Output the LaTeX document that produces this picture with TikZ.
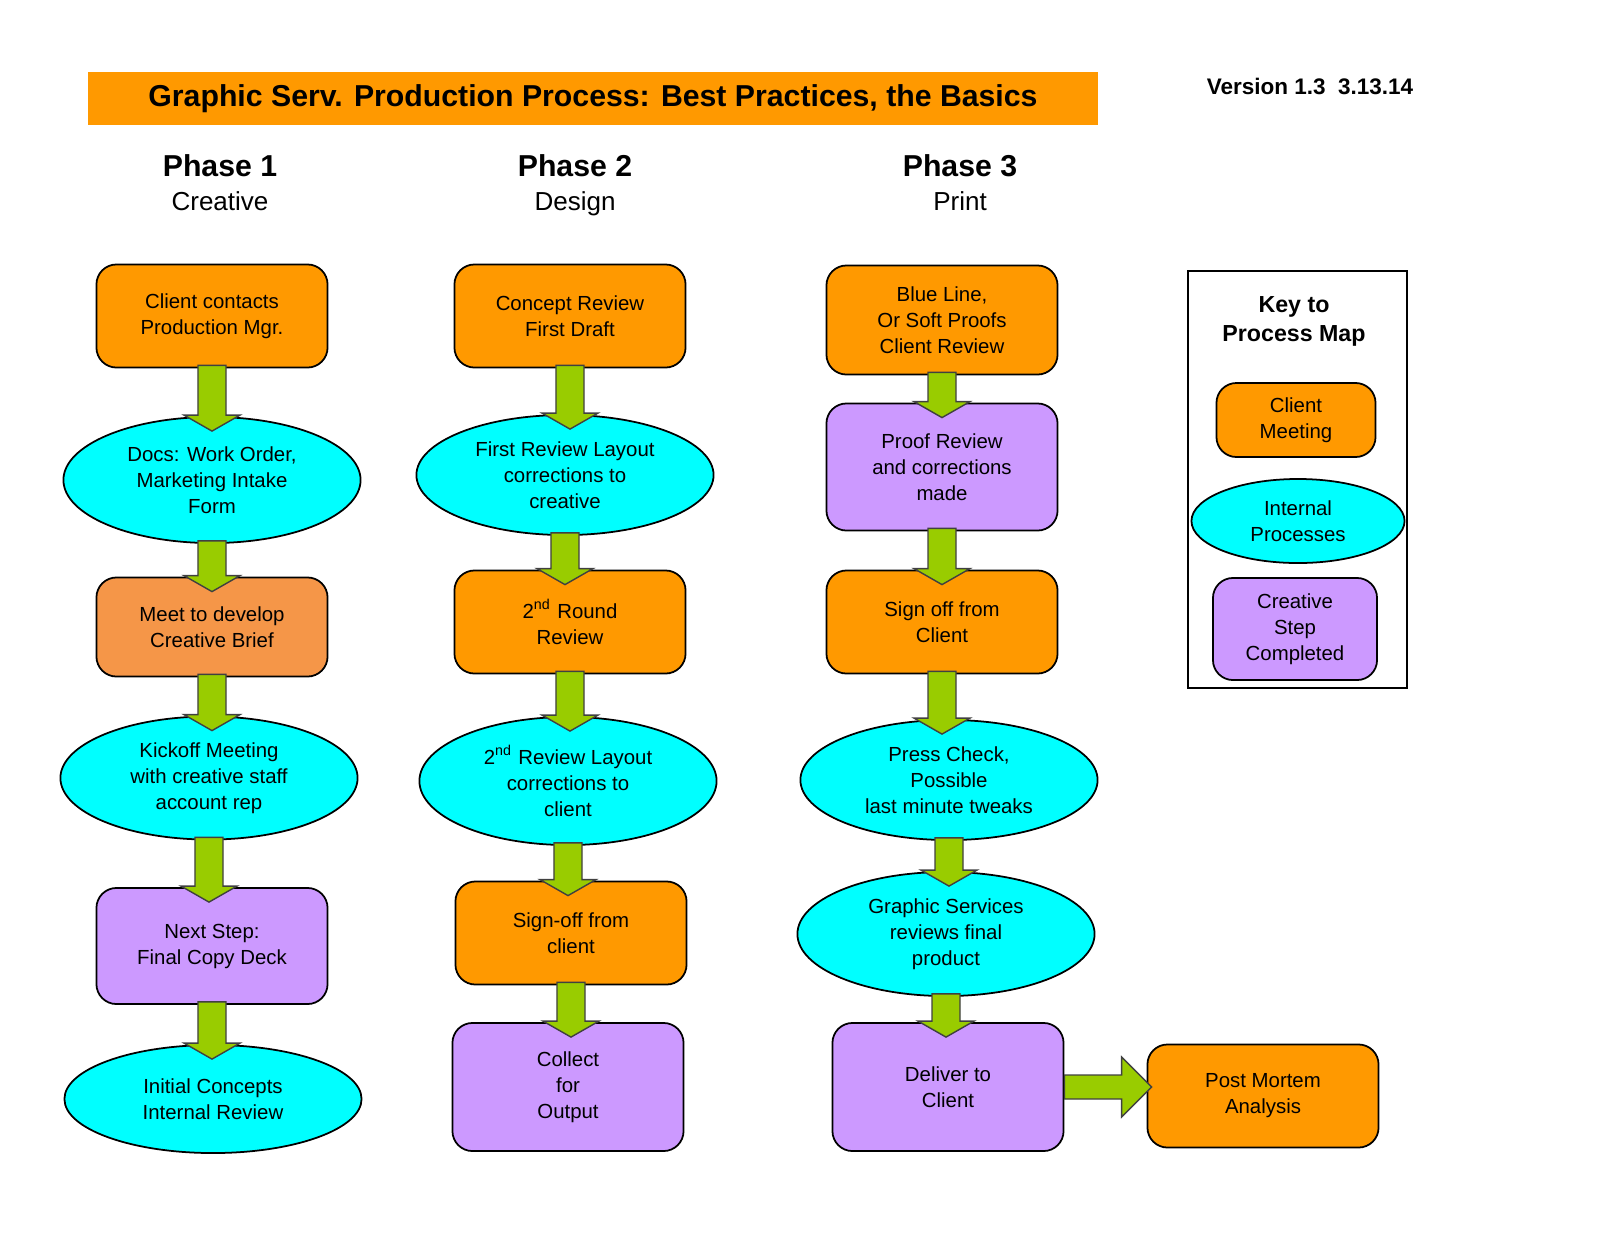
\documentclass[tikz,border=0pt]{standalone}
\usepackage{fontspec}
\setmainfont{Liberation Sans}
\usetikzlibrary{shapes.geometric,calc}
\definecolor{boxorange}{RGB}{255,153,0}
\definecolor{brieforange}{RGB}{245,150,72}
\definecolor{stepviolet}{RGB}{204,153,255}
\definecolor{proccyan}{RGB}{0,255,255}
\definecolor{arrowgreen}{RGB}{153,204,0}

\tikzset{
  txt/.style={font=\fontsize{5.8}{7.4}\selectfont, align=center, text=black},
  meet/.style={txt, draw=black, line width=0.5pt, rounded corners=0.2cm, fill=boxorange, minimum width=2.31cm, minimum height=1.03cm},
  creative/.style={meet, fill=stepviolet},
  proc/.style={txt, ellipse, draw=black, line width=0.5pt, fill=proccyan, minimum width=2.97cm, minimum height=1.22cm, inner sep=0pt},
  blk/.style={fill=arrowgreen, draw=black!75, line width=0.4pt, line join=miter}
}
\newcommand{\blkdown}[2]{%
  \draw[blk] let \p1=(#1.south), \p2=($(#2.north)+(0,15)$) in
    (\x1-0.14cm,\y1+0.03cm) -- (\x1-0.14cm,\y2+0.16cm) -- (\x1-0.28cm,\y2+0.16cm) -- (\x1,\y2)
    -- (\x1+0.28cm,\y2+0.16cm) -- (\x1+0.14cm,\y2+0.16cm) -- (\x1+0.14cm,\y1+0.03cm) -- cycle;}

\begin{document}
\begin{tikzpicture}[x=0.01cm,y=-0.01cm]
\useasboundingbox (0,0) rectangle (1600,1236);

% Title and phase headings
\fill[boxorange] (88,72) rectangle (1098,125);
\node[font=\bfseries\fontsize{8.6}{10}\selectfont] (title) at (593,99) {Graphic Serv. Production Process: Best Practices, the Basics};
\node[font=\bfseries\fontsize{6.4}{8}\selectfont] (version) at (1310,86) {Version 1.3\ \ 3.13.14};
\foreach \x/\n/\s in {220/1/Creative, 575/2/Design, 960/3/Print}{
  \node[font=\bfseries\fontsize{8.6}{10}\selectfont, anchor=base] (ph\n) at (\x,176) {Phase \n};
  \node[font=\fontsize{7.4}{9}\selectfont, anchor=base] (sub\n) at (\x,210) {\s};
}

% Phase 1
\node[meet] (contact) at (212,316) {Client contacts\\Production Mgr.};
\node[proc, minimum height=1.26cm] (docs) at (212,480) {Docs: Work Order,\\Marketing Intake\\Form};
\node[meet, fill=brieforange, minimum height=0.99cm] (brief) at (212,627) {Meet to develop\\Creative Brief};
\node[proc, minimum height=1.23cm] (kickoff) at (209,778) {Kickoff Meeting\\with creative staff\\account rep};
\node[creative, minimum height=1.16cm] (copydeck) at (212,946) {Next Step:\\Final Copy Deck};
\node[proc, minimum height=1.08cm] (concepts) at (213,1099) {Initial Concepts\\Internal Review};

% Phase 2
\node[meet] (review) at (570,316) {Concept Review\\First Draft};
\node[proc, minimum height=1.2cm] (layout1) at (565,475) {First Review Layout\\corrections to\\creative};
\node[meet] (round2) at (570,622) {2\textsuperscript{nd} Round\\Review};
\node[proc, minimum height=1.28cm] (layout2) at (568,781) {2\textsuperscript{nd} Review Layout\\corrections to\\client};
\node[meet] (signoff2) at (571,933) {Sign-off from\\client};
\node[creative, minimum height=1.28cm] (collect) at (568,1087) {Collect\\for\\Output};

% Phase 3
\node[meet, minimum height=1.09cm] (blueline) at (942,320) {Blue Line,\\Or Soft Proofs\\Client Review};
\node[creative, minimum height=1.27cm] (proof) at (942,467) {Proof Review\\and corrections\\made};
\node[meet] (signoff3) at (942,622) {Sign off from\\Client};
\node[proc, minimum height=1.2cm] (press) at (949,780) {Press Check,\\Possible\\last minute tweaks};
\node[proc, minimum height=1.24cm] (final) at (946,934) {Graphic Services\\reviews final\\product};
\node[creative, minimum height=1.28cm] (deliver) at (948,1087) {Deliver to\\Client};
\node[meet] (postmortem) at (1263,1096) {Post Mortem\\Analysis};

% Key
\draw[line width=0.5pt] (1188,271) rectangle (1407,688);
\node[font=\bfseries\fontsize{6.6}{8.2}\selectfont, align=center] (keytitle) at (1294,321) {Key to\\Process Map};
\node[meet, minimum width=1.59cm, minimum height=0.74cm] (keymeet) at (1296,420) {Client\\Meeting};
\node[proc, minimum width=2.13cm, minimum height=0.84cm] (keyproc) at (1298,521) {Internal\\Processes};
\node[creative, minimum width=1.64cm, minimum height=1.02cm] (keystep) at (1295,629) {Creative\\Step\\Completed};

% Block arrows
\blkdown{contact}{docs}
\blkdown{docs}{brief}
\blkdown{brief}{kickoff}
\blkdown{kickoff}{copydeck}
\blkdown{copydeck}{concepts}
\blkdown{review}{layout1}
\blkdown{layout1}{round2}
\blkdown{round2}{layout2}
\blkdown{layout2}{signoff2}
\blkdown{signoff2}{collect}
\blkdown{blueline}{proof}
\blkdown{proof}{signoff3}
\blkdown{signoff3}{press}
\blkdown{press}{final}
\blkdown{final}{deliver}
\draw[blk] let \p1=(deliver.east), \p2=(postmortem.west) in
  (\x1,\y1-0.12cm) -- (\x2-0.25cm,\y1-0.12cm) -- (\x2-0.25cm,\y1-0.3cm) -- (\x2+0.05cm,\y1)
  -- (\x2-0.25cm,\y1+0.3cm) -- (\x2-0.25cm,\y1+0.12cm) -- (\x1,\y1+0.12cm) -- cycle;
\end{tikzpicture}
\end{document}
